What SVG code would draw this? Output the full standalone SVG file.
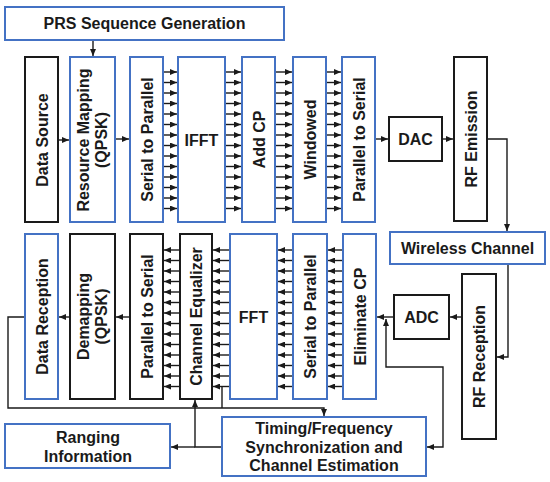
<svg xmlns="http://www.w3.org/2000/svg" xmlns:xlink="http://www.w3.org/1999/xlink" width="550" height="482" viewBox="0 0 550 482">
<style>
.b{fill:#fff;stroke:#4472C4;stroke-width:2}
.k{fill:#fff;stroke:#1a1a1a;stroke-width:2}
.t{font-family:"Liberation Sans",Arial,sans-serif;font-weight:bold;font-size:16px;fill:#1a1a1a;text-anchor:middle}
.c{fill:none;stroke:#1a1a1a;stroke-width:1.4}
.a{marker-end:url(#ah)}
</style>
<defs>
<marker id="ah" markerUnits="userSpaceOnUse" markerWidth="7" markerHeight="6" refX="7" refY="3" orient="auto-start-reverse">
<path d="M0,0 L7,3 L0,6 z" fill="#1a1a1a"/>
</marker>
<g id="rset" class="c">
<line class="a" x1="-20" y1="0" x2="0" y2="0"/><line class="a" x1="-20" y1="10.5" x2="0" y2="10.5"/><line class="a" x1="-20" y1="21" x2="0" y2="21"/><line class="a" x1="-20" y1="31.5" x2="0" y2="31.5"/><line class="a" x1="-20" y1="42" x2="0" y2="42"/><line class="a" x1="-20" y1="52.5" x2="0" y2="52.5"/><line class="a" x1="-20" y1="63" x2="0" y2="63"/><line class="a" x1="-20" y1="73.5" x2="0" y2="73.5"/><line class="a" x1="-20" y1="84" x2="0" y2="84"/><line class="a" x1="-20" y1="94.5" x2="0" y2="94.5"/><line class="a" x1="-20" y1="105" x2="0" y2="105"/><line class="a" x1="-20" y1="115.5" x2="0" y2="115.5"/><line class="a" x1="-20" y1="126" x2="0" y2="126"/><line class="a" x1="-20" y1="136.5" x2="0" y2="136.5"/>
</g>
<g id="lset" class="c">
<line class="a" x1="20" y1="0" x2="0" y2="0"/><line class="a" x1="20" y1="10.5" x2="0" y2="10.5"/><line class="a" x1="20" y1="21" x2="0" y2="21"/><line class="a" x1="20" y1="31.5" x2="0" y2="31.5"/><line class="a" x1="20" y1="42" x2="0" y2="42"/><line class="a" x1="20" y1="52.5" x2="0" y2="52.5"/><line class="a" x1="20" y1="63" x2="0" y2="63"/><line class="a" x1="20" y1="73.5" x2="0" y2="73.5"/><line class="a" x1="20" y1="84" x2="0" y2="84"/><line class="a" x1="20" y1="94.5" x2="0" y2="94.5"/><line class="a" x1="20" y1="105" x2="0" y2="105"/><line class="a" x1="20" y1="115.5" x2="0" y2="115.5"/><line class="a" x1="20" y1="126" x2="0" y2="126"/><line class="a" x1="20" y1="136.5" x2="0" y2="136.5"/>
</g>
</defs>
<rect width="550" height="482" fill="#fff"/>
<g id="connectors">
<use xlink:href="#rset" x="177" y="72"/>
<use xlink:href="#rset" x="241" y="72"/>
<use xlink:href="#rset" x="292" y="72"/>
<use xlink:href="#rset" x="341" y="72"/>
<use xlink:href="#lset" x="328" y="250"/>
<use xlink:href="#lset" x="278" y="250"/>
<use xlink:href="#lset" x="213" y="250"/>
<use xlink:href="#lset" x="164" y="250"/>
<line class="c a" x1="93" y1="41" x2="93" y2="56"/>
<line class="c a" x1="58" y1="140" x2="69" y2="140"/>
<line class="c a" x1="115" y1="139" x2="129" y2="139"/>
<line class="c a" x1="375" y1="139" x2="388" y2="139"/>
<line class="c a" x1="442" y1="139" x2="453" y2="139"/>
<polyline class="c a" points="487,139 507,139 507,231"/>
<polyline class="c a" points="508,264 508,357 497,357"/>
<line class="c a" x1="462" y1="317" x2="450" y2="317"/>
<line class="c a" x1="394" y1="317" x2="377" y2="317"/>
<polyline class="c a" style="marker-start:url(#ah)" points="386,319 386,367 443,367 443,447 427,447"/>
<line class="c a" x1="130" y1="317" x2="116" y2="317"/>
<line class="c a" x1="70" y1="317" x2="59" y2="317"/>
<polyline class="c a" points="25,317 8,317 8,408 324,408 324,416"/>
<line class="c" x1="222" y1="386.5" x2="222" y2="408"/>
<polyline class="c a" points="222,447 195,447 195,400"/>
<line class="c a" x1="195" y1="447" x2="171" y2="447"/>
</g>
<g id="prs"><rect class="b" x="5" y="7" width="279" height="33"/><text class="t" x="144.5" y="29">PRS Sequence Generation</text></g>
<g id="data-source"><rect class="k" x="25" y="57" width="33" height="165"/><text class="t" transform="rotate(-90 48 140)" x="48" y="140">Data Source</text></g>
<g id="resource-mapping"><rect class="b" x="70" y="57" width="45" height="165"/><text class="t" transform="rotate(-90 89 140)" x="89" y="140"><tspan x="89" y="140">Resource Mapping</tspan><tspan x="89" y="158">(QPSK)</tspan></text></g>
<g id="s2p-tx"><rect class="b" x="130" y="57" width="33" height="165"/><text class="t" transform="rotate(-90 152.5 139.5)" x="152.5" y="139.5">Serial to Parallel</text></g>
<g id="ifft"><rect class="b" x="178" y="57" width="47" height="165"/><text class="t" x="201.5" y="146">IFFT</text></g>
<g id="add-cp"><rect class="b" x="242" y="57" width="33" height="165"/><text class="t" transform="rotate(-90 264.5 139.5)" x="264.5" y="139.5">Add CP</text></g>
<g id="windowed"><rect class="b" x="293" y="57" width="33" height="165"/><text class="t" transform="rotate(-90 315.5 139.5)" x="315.5" y="139.5">Windowed</text></g>
<g id="p2s-tx"><rect class="b" x="342" y="57" width="33" height="165"/><text class="t" transform="rotate(-90 364.5 139.5)" x="364.5" y="139.5">Parallel to Serial</text></g>
<g id="dac"><rect class="k" x="389" y="117" width="53" height="44"/><text class="t" x="415.5" y="145">DAC</text></g>
<g id="rf-emission"><rect class="k" x="454" y="57" width="33" height="164"/><text class="t" transform="rotate(-90 476.5 139)" x="476.5" y="139">RF Emission</text></g>
<g id="wireless-channel"><rect class="b" x="390" y="232" width="155" height="32"/><text class="t" x="467.5" y="254">Wireless Channel</text></g>
<g id="rf-reception"><rect class="k" x="462" y="274" width="34" height="165"/><text class="t" transform="rotate(-90 485 356.5)" x="485" y="356.5">RF Reception</text></g>
<g id="adc"><rect class="k" x="394" y="295" width="55" height="44"/><text class="t" x="421.5" y="323">ADC</text></g>
<g id="eliminate-cp"><rect class="b" x="343" y="234" width="33" height="165"/><text class="t" transform="rotate(-90 365.5 316.5)" x="365.5" y="316.5">Eliminate CP</text></g>
<g id="s2p-rx"><rect class="b" x="293" y="234" width="34" height="165"/><text class="t" transform="rotate(-90 316 316.5)" x="316" y="316.5">Serial to Parallel</text></g>
<g id="fft"><rect class="b" x="230" y="234" width="47" height="165"/><text class="t" x="253.5" y="323">FFT</text></g>
<g id="channel-equalizer"><rect class="k" x="180" y="234" width="32" height="165"/><text class="t" transform="rotate(-90 202 316.5)" x="202" y="316.5">Channel Equalizer</text></g>
<g id="p2s-rx"><rect class="k" x="130" y="234" width="33" height="165"/><text class="t" transform="rotate(-90 152.5 316.5)" x="152.5" y="316.5">Parallel to Serial</text></g>
<g id="demapping"><rect class="k" x="70" y="234" width="45" height="165"/><text class="t" transform="rotate(-90 89 316.5)" x="89" y="316.5"><tspan x="89" y="316.5">Demapping</tspan><tspan x="89" y="334.5">(QPSK)</tspan></text></g>
<g id="data-reception"><rect class="b" x="25" y="234" width="33" height="165"/><text class="t" transform="rotate(-90 48 316.5)" x="48" y="316.5">Data Reception</text></g>
<g id="timing"><rect class="b" x="222" y="417" width="204" height="59"/><text class="t" x="324" y="434"><tspan x="324" y="434">Timing/Frequency</tspan><tspan x="324" y="452.5">Synchronization and</tspan><tspan x="324" y="471">Channel Estimation</tspan></text></g>
<g id="ranging"><rect class="b" x="5" y="424" width="165" height="44"/><text class="t" x="88" y="443"><tspan x="88" y="443">Ranging</tspan><tspan x="88" y="462">Information</tspan></text></g>
</svg>
